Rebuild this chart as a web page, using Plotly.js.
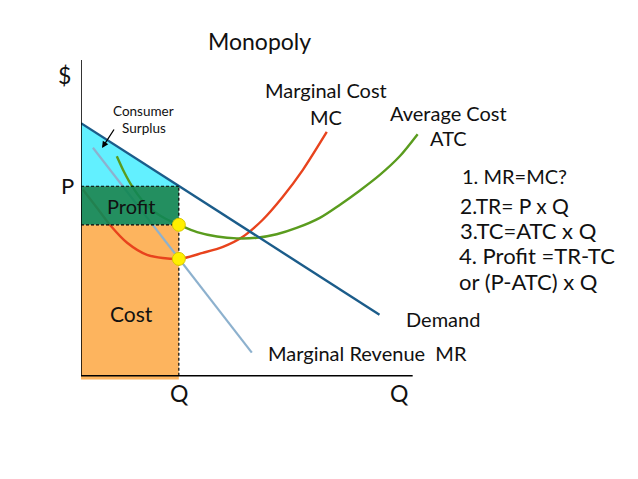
<!DOCTYPE html>
<html>
<head>
<meta charset="utf-8">
<script src="https://cdn.plot.ly/plotly-3.0.1.min.js"></script>
<style>html,body{margin:0;padding:0;background:#fff;}#chart{width:638px;height:479px;}</style>
</head>
<body>
<div id="chart"></div>
<script>
// ---- values (quantity / price units) ----
var Q = 2.95;          // profit-maximising quantity
var P = 6.0;           // monopoly price
var ATC_Q = 4.78;      // average total cost at Q
var MC_Q = 3.70;       // marginal cost (= MR) at Q

var demandX = [0, 9.0];
var demandY = [8.0, 1.93];

var mrX = [0.36, 5.15];
var mrY = [7.22, 0.73];

var mcX = [0.06, 0.48, 0.87, 1.39, 1.99, 2.95, 3.67, 4.28, 4.88, 5.48, 6.08, 6.69, 7.41];
var mcY = [5.89, 5.32, 4.78, 4.21, 3.83, 3.70, 3.89, 4.08, 4.40, 4.94, 5.66, 6.52, 7.72];

var atcX = [1.08, 1.30, 1.55, 1.85, 2.20, 2.55, 2.95, 3.50, 4.10, 4.70, 5.30, 5.90, 6.50, 7.20, 7.80, 8.40, 9.01, 9.61, 10.15];
var atcY = [6.95, 6.45, 5.98, 5.55, 5.20, 4.97, 4.78, 4.55, 4.41, 4.35, 4.37, 4.48, 4.68, 5.00, 5.41, 5.86, 6.36, 6.95, 7.65];

var axisMax = 10;

var steps = ["1. MR=MC?", "2.TR= P x Q", "3.TC=ATC x Q", "4. Profit =TR-TC", "or (P-ATC) x Q"];

// ---- layout geometry ----
var W = 638, H = 479;
var mL = 81, mR = 159, mT = 60, mB = 97;
var xr = [0, 12], yr = [-0.2, 10];
var plotW = W - mL - mR, plotH = H - mT - mB;
function pxX(px) { return (px - mL) / plotW; }
function pxY(py) { return (H - mB - py) / plotH; }
function dx(px) { return xr[0] + (px - mL) / plotW * (xr[1] - xr[0]); }
function dy(py) { return yr[1] - (py - mT) / plotH * (yr[1] - yr[0]); }

var FONT = "Lato, 'Open Sans', sans-serif";
var dashStyle = "3px,2px";

var traces = [
  // consumer surplus
  {x: [0, Q, 0, 0], y: [demandY[0], P, P, demandY[0]], fill: "toself", fillcolor: "#62F0FF",
   mode: "lines", line: {width: 0, color: "rgba(0,0,0,0)"}, hoverinfo: "skip"},
  // cost
  {x: [0, Q, Q, 0, 0], y: [-0.12, -0.12, ATC_Q, ATC_Q, -0.12], fill: "toself", fillcolor: "#FDB45E",
   mode: "lines", line: {width: 0, color: "rgba(0,0,0,0)"}, hoverinfo: "skip"},
  // MR
  {x: mrX, y: mrY, mode: "lines", line: {color: "#8DB1CE", width: 2.2}},
  // MC
  {x: mcX, y: mcY, mode: "lines", line: {color: "#E8431D", width: 2.4, shape: "spline", smoothing: 0.8}},
  // ATC
  {x: atcX, y: atcY, mode: "lines", line: {color: "#5A9C1E", width: 2.4, shape: "spline", smoothing: 0.8}},
  // Demand
  {x: demandX, y: demandY, mode: "lines", line: {color: "#1B5C8A", width: 2.4}},
  // profit
  {x: [0, Q, Q, 0, 0], y: [ATC_Q, ATC_Q, P, P, ATC_Q], fill: "toself", fillcolor: "rgba(18,134,84,0.93)",
   mode: "lines", line: {width: 0, color: "rgba(0,0,0,0)"}, hoverinfo: "skip"},
  // dashed guides
  {x: [0, Q], y: [P, P], mode: "lines", line: {color: "#000", width: 1.2, dash: dashStyle}},
  {x: [0, Q], y: [ATC_Q, ATC_Q], mode: "lines", line: {color: "#000", width: 1.2, dash: dashStyle}},
  {x: [Q, Q], y: [0, P], mode: "lines", line: {color: "#000", width: 1.2, dash: dashStyle}},
  // axes
  {x: [0, 0], y: [0, axisMax], mode: "lines", line: {color: "#000", width: 1.6}},
  {x: [0, axisMax], y: [0, 0], mode: "lines", line: {color: "#000", width: 1.6}},
  // points
  {x: [Q, Q], y: [ATC_Q, MC_Q], mode: "markers",
   marker: {size: 13, color: "#FFF000", line: {color: "#D8C800", width: 1}}}
];

function ann(text, px, py, size, anchor) {
  return {text: text, x: pxX(px), y: pxY(py), xref: "paper", yref: "paper", showarrow: false,
          xanchor: anchor || "center", yanchor: "middle",
          font: {family: FONT, size: size, color: "#111"}};
}

var annotations = [
  ann("Monopoly", 259, 41, 23),
  ann("$", 64, 75, 23),
  ann("Consumer", 143, 111, 13.5),
  ann("Surplus", 144, 128, 13.5),
  ann("P", 67, 185, 22),
  ann("Profit", 131, 206, 20),
  ann("Cost", 131, 313, 21),
  ann("Q", 179, 393, 23),
  ann("Q", 399, 393, 23),
  ann("Marginal Cost", 326, 90, 20),
  ann("MC", 326, 117, 20),
  ann("Average Cost", 448, 113, 20),
  ann("ATC", 448, 138, 20),
  ann("Demand", 404, 319, 20, "left"),
  ann("Marginal Revenue  MR", 266, 353, 20, "left"),
  // arrow
  {x: dx(102), y: dy(148), ax: dx(115), ay: dy(128), axref: "x", ayref: "y", xref: "x", yref: "y",
   showarrow: true, arrowhead: 2, arrowsize: 1, arrowwidth: 1.3, arrowcolor: "#000", text: ""}
];
var stepY = [176, 205, 230, 255, 281];
var stepX = [460, 458, 458, 457, 457];
var stepSize = [20, 21, 22, 22, 22];
for (var i = 0; i < steps.length; i++) {
  annotations.push(ann(steps[i], stepX[i], stepY[i], stepSize[i], "left"));
}

var layout = {
  width: W, height: H,
  margin: {l: mL, r: mR, t: mT, b: mB, pad: 0},
  paper_bgcolor: "#fff", plot_bgcolor: "rgba(0,0,0,0)",
  showlegend: false,
  xaxis: {range: xr, visible: false, fixedrange: true},
  yaxis: {range: yr, visible: false, fixedrange: true},
  annotations: annotations
};

Plotly.newPlot("chart", traces, layout, {displayModeBar: false, staticPlot: true});
</script>
</body>
</html>
